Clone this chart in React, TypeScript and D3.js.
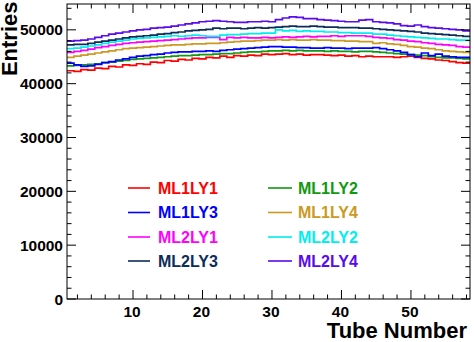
import React from 'react';
import * as d3 from 'd3';

const tubes = d3.range(1, 59);

const ml1ly1 = [
  42400, 42300, 42600, 42500, 42900, 42800, 43200, 43100, 43500, 43400,
  43700, 43600, 44000, 43900, 44300, 44200, 44500, 44400, 44700, 44600,
  44900, 44800, 45100, 44900, 45200, 45100, 45300, 45200, 45500, 45400,
  45500, 45600, 45400, 45500, 45300, 45400, 45400, 45300, 45200, 45300,
  45100, 45200, 45000, 45100, 45000, 45000, 45000, 44900, 45000, 45100,
  44900, 44700, 44600, 44400, 44300, 44100, 43900, 43800];
const ml1ly2 = [
  43300, 43400, 43500, 43600, 43700, 43900, 44000, 44200, 44300, 44500,
  44600, 44700, 44800, 44900, 45000, 45100, 45200, 45200, 45300, 45400,
  45400, 45500, 45600, 45600, 45700, 45800, 45900, 45900, 46000, 46100,
  46100, 46200, 46100, 46200, 46100, 46100, 46100, 46000, 46100, 46000,
  46000, 45900, 46000, 46000, 45900, 45800, 45700, 45600, 45500, 45400,
  45300, 45200, 45000, 44900, 44800, 44800, 44700, 44600];
const ml1ly3 = [
  43800, 43500, 43200, 43300, 43600, 43900, 44100, 44400, 44600, 44900,
  45100, 45200, 45400, 45500, 45700, 45800, 45900, 45900, 46000, 46000,
  46100, 46000, 46200, 46300, 46400, 46500, 46600, 46700, 46800, 46900,
  46900, 46800, 46800, 46700, 46700, 46600, 46600, 46700, 46600, 46600,
  46500, 46600, 46600, 46600, 46700, 46500, 46300, 46100, 45800, 45400,
  45000, 45700, 45200, 45500, 45100, 45000, 44900, 44900];
const ml1ly4 = [
  44900, 45100, 45300, 45500, 45700, 45900, 46100, 46300, 46500, 46600,
  46700, 46800, 46900, 47000, 47100, 47200, 47200, 47300, 47400, 47400,
  47500, 47500, 47600, 47700, 47800, 47900, 47900, 48000, 48100, 48100,
  48200, 48100, 48200, 48100, 48100, 48200, 48100, 48100, 48000, 48000,
  47900, 47900, 47800, 47800, 47500, 47600, 47400, 47300, 47100, 46900,
  46800, 46600, 46500, 46300, 46100, 46000, 45900, 45800];
const ml2ly1 = [
  45800, 46000, 46200, 46400, 46700, 46900, 47100, 47300, 47500, 47600,
  47700, 47800, 47900, 48000, 48100, 48200, 48300, 48400, 48500, 48500,
  48600, 48600, 48200, 48600, 48500, 48600, 48500, 48500, 48600, 48500,
  48600, 48700, 48600, 48700, 48800, 48700, 48800, 48800, 48900, 48800,
  48900, 48900, 48900, 48800, 48600, 48500, 48400, 48200, 48100, 47900,
  47800, 47600, 47500, 47300, 47200, 47100, 46900, 46800];
const ml2ly2 = [
  46500, 46600, 46800, 47000, 47200, 47500, 47700, 47900, 48100, 48300,
  48400, 48500, 48600, 48700, 48800, 48900, 48800, 48900, 49000, 48900,
  48800, 48800, 49000, 49100, 49100, 49200, 49300, 49300, 49400, 49400,
  50000, 49800, 49900, 49700, 49800, 49700, 49700, 49600, 49600, 49500,
  49500, 49400, 49400, 49400, 49200, 49200, 49000, 48900, 48800, 48700,
  48600, 48500, 48400, 48300, 48300, 48200, 48100, 48100];
const ml2ly3 = [
  47200, 47300, 47300, 47500, 47700, 47900, 48100, 48300, 48500, 48700,
  48800, 48900, 49000, 49200, 49300, 49500, 49600, 49800, 49900, 50000,
  50100, 50300, 50200, 50300, 50300, 50200, 50300, 50400, 50300, 50400,
  50500, 50600, 50700, 50600, 50600, 50700, 50600, 50500, 50500, 50400,
  50400, 50400, 50300, 50300, 50200, 50100, 50000, 49900, 49800, 49700,
  49600, 49400, 49300, 49200, 49100, 49000, 48900, 48800];
const ml2ly4 = [
  47900, 48000, 48100, 48300, 48600, 48900, 49200, 49400, 49600, 49800,
  50000, 50100, 50300, 50400, 50500, 50700, 50900, 51100, 51300, 51500,
  51600, 51700, 51600, 51500, 51400, 51400, 51500, 51500, 51600, 51500,
  51900, 52200, 52400, 52300, 52100, 52100, 51900, 51800, 51700, 51600,
  51500, 51500, 51800, 51900, 51500, 51400, 51300, 51100, 50800, 50700,
  50900, 50600, 50400, 50300, 50200, 50100, 50000, 49800];

const seriesNames = ['ML1LY1', 'ML1LY2', 'ML1LY3', 'ML1LY4', 'ML2LY1', 'ML2LY2', 'ML2LY3', 'ML2LY4'];
const seriesValues = [ml1ly1, ml1ly2, ml1ly3, ml1ly4, ml2ly1, ml2ly2, ml2ly3, ml2ly4];
const seriesColors = ['#ff0000', '#119911', '#0000ff', '#cc9922', '#ff00ff', '#00eeee', '#0b2d5a', '#5a0aee'];

const xTicks = [10, 20, 30, 40, 50];
const yTicks = [0, 10000, 20000, 30000, 40000, 50000];

const W = 474, H = 342;
const left = 67, right = 470, top = 4, bottom = 299;
const font = "'Liberation Sans', Arial, Helvetica, sans-serif";

const App = () => {
  const x = d3.scaleLinear().domain([0.5, 58.5]).range([left, right]);
  const y = d3.scaleLinear().domain([0, 54800]).range([bottom, top]);

  const line = d3.line<[number, number]>()
    .x(d => x(d[0]))
    .y(d => y(d[1]))
    .curve(d3.curveStepAfter);

  const pathFor = (vals: number[]) => {
    const pts: [number, number][] = tubes.map((t, i) => [t - 0.5, vals[i]]);
    pts.push([tubes[tubes.length - 1] + 0.5, vals[vals.length - 1]]);
    return line(pts) || '';
  };

  const xMinor = d3.range(2, 59, 2).filter(v => v % 10 !== 0);
  const yMinor = d3.range(0, 54801, 2000).filter(v => v % 10000 !== 0);

  // legend layout: two columns, four rows
  const rowY = [188, 212.5, 237, 261];
  const colLine = [[128, 150], [268, 292]];
  const colText = [158, 298];

  return (
    <svg width={W} height={H} style={{ position: 'absolute', left: 0, top: 0, background: '#fff' }}>
      <rect x={0} y={0} width={W} height={H} fill="#fff" />
      {seriesValues.map((vals, i) => (
        <path key={seriesNames[i]} d={pathFor(vals)} fill="none" stroke={seriesColors[i]} strokeWidth={1.7} />
      ))}
      <rect x={left} y={top} width={right - left} height={bottom - top} fill="none" stroke="#000" strokeWidth={1} />
      {/* x ticks */}
      {xTicks.map(v => (
        <g key={'xt' + v}>
          <line x1={x(v)} x2={x(v)} y1={bottom} y2={bottom - 9} stroke="#000" />
          <line x1={x(v)} x2={x(v)} y1={top} y2={top + 9} stroke="#000" />
          <text x={x(v) - 1} y={316.5} textAnchor="middle" fontFamily={font} fontWeight="bold" fontSize={15.5}>{v}</text>
        </g>
      ))}
      {xMinor.map(v => (
        <g key={'xm' + v}>
          <line x1={x(v)} x2={x(v)} y1={bottom} y2={bottom - 4.5} stroke="#000" />
          <line x1={x(v)} x2={x(v)} y1={top} y2={top + 4.5} stroke="#000" />
        </g>
      ))}
      {/* y ticks */}
      {yTicks.map(v => (
        <g key={'yt' + v}>
          <line x1={left} x2={left + 9} y1={y(v)} y2={y(v)} stroke="#000" />
          <line x1={right} x2={right - 9} y1={y(v)} y2={y(v)} stroke="#000" />
          <text x={63} y={y(v)} dy="0.36em" textAnchor="end" fontFamily={font} fontWeight="bold" fontSize={15.5}>{v}</text>
        </g>
      ))}
      {yMinor.map(v => (
        <g key={'ym' + v}>
          <line x1={left} x2={left + 4.5} y1={y(v)} y2={y(v)} stroke="#000" />
          <line x1={right} x2={right - 4.5} y1={y(v)} y2={y(v)} stroke="#000" />
        </g>
      ))}
      <text x={467} y={338} textAnchor="end" fontFamily={font} fontWeight="bold" fontSize={22}>Tube Number</text>
      <text transform="translate(16.5,1.5) rotate(-90)" textAnchor="end" fontFamily={font} fontWeight="bold" fontSize={22}>Entries</text>
      {/* legend */}
      {seriesNames.map((name, i) => {
        const col = i % 2;
        const row = Math.floor(i / 2);
        return (
          <g key={'lg' + name}>
            <line x1={colLine[col][0]} x2={colLine[col][1]} y1={rowY[row]} y2={rowY[row]} stroke={seriesColors[i]} strokeWidth={1.6} />
            <text x={colText[col]} y={rowY[row]} dy="0.36em" fontFamily={font} fontWeight="bold" fontSize={16} fill={seriesColors[i]}>{name}</text>
          </g>
        );
      })}
    </svg>
  );
};

export default App;
